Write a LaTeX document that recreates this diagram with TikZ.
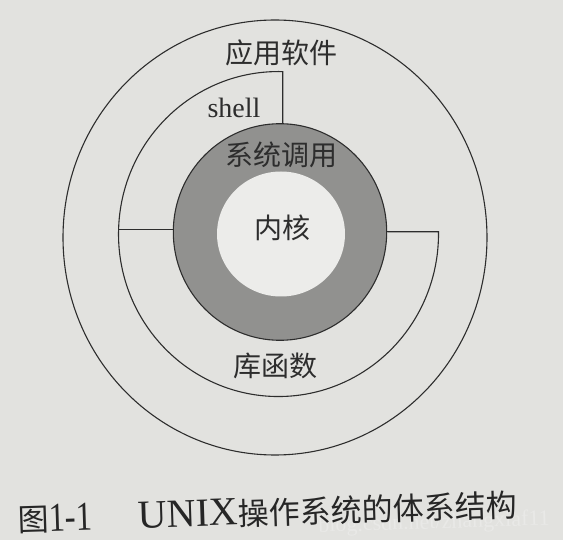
\documentclass[tikz,border=0pt]{standalone}
\usepackage{fontspec}
\usepackage{graphicx}
\setmainfont{Liberation Serif}
\newfontfamily\cjk{Noto Sans CJK SC}
\definecolor{paper}{RGB}{226,226,223}
\definecolor{inkc}{RGB}{45,45,45}
\definecolor{ringc}{RGB}{145,145,143}
\definecolor{corec}{RGB}{236,236,234}
\definecolor{wmark}{RGB}{233,233,231}
\begin{document}
\begin{tikzpicture}[x=1pt,y=1pt,
  edge/.style={draw=inkc, line width=1.1pt},
  cjklab/.style={inner sep=0pt, text=inkc, font=\cjk\fontsize{28}{28}\selectfont},
  latlab/.style={inner sep=0pt, text=inkc, font=\fontsize{28}{28}\selectfont},
  caplab/.style={inner sep=0pt, text=black!85, anchor=base west, rotate=1.8}]
\fill[paper] (0,0) rectangle (563,-540);
\useasboundingbox (0,0) rectangle (563,-540);
% outer circle
\draw[edge] (275,-237.5) ellipse [x radius=212, y radius=217.5];
% kernel ring
\filldraw[fill=ringc, edge] (280,-232) ellipse [x radius=106.7, y radius=108.3];
\fill[corec] (281,-234) ellipse [x radius=64, y radius=62.5];
% shell / library ring
\coordinate (shtop) at (282.7,-71.6);
\coordinate (shbot) at (282.7,-123.7);
\coordinate (rin) at (386.7,-231.7);
\coordinate (lout) at (118.6,-229.5);
\coordinate (lin) at (173.3,-229.5);
\draw[edge] (shbot) -- (shtop) arc [start angle=88.5, end angle=360.8, x radius=160, y radius=162.5] -- (rin);
\draw[edge] (lout) -- (lin);
% labels
\node[cjklab] (app) at (281.7,-53) {应用软件};
\node[latlab] (shell) at (234,-108) {shell};
\node[cjklab] (sys) at (281.7,-155) {系统调用};
\node[cjklab] (kern) at (282.5,-228) {内核};
\node[cjklab] (lib) at (275.8,-366) {库函数};
% watermark
\node[inner sep=0pt, anchor=base east, rotate=1.8, text=wmark, font=\fontsize{22}{22}\selectfont] (wm) at (550,-525) {blog.csdn.net/zhangxiaf11};
% caption
\node[caplab] (cap) at (18,-532) {\cjk\fontsize{31}{31}\selectfont 图\rmfamily\scalebox{0.8}[1]{\fontsize{41}{41}\selectfont 1-1}\hspace{46pt}\fontsize{40}{40}\selectfont UNIX\cjk\fontsize{31}{31}\selectfont 操作系统的体系结构};
\end{tikzpicture}
\end{document}
